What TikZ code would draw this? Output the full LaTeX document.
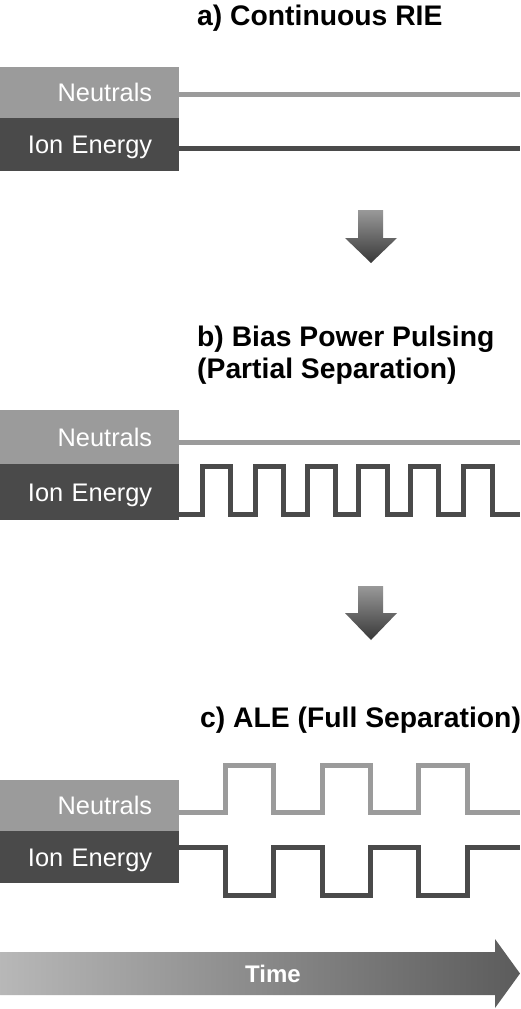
\documentclass[tikz,border=0pt]{standalone}
\usepackage{fontspec}
\setmainfont{Liberation Sans}
\usetikzlibrary{shapes.arrows}
\definecolor{neut}{HTML}{9B9B9B}
\definecolor{ion}{HTML}{4A4A4A}
\begin{document}
\begin{tikzpicture}[x=1pt,y=-1pt,
  title/.style={anchor=base west,inner sep=0pt,font=\bfseries\fontsize{28.3}{32}\selectfont},
  sigbox/.style={anchor=north west,rectangle,minimum width=179pt,inner xsep=27pt,inner ysep=0pt,
     text width=125pt,align=right,text=white,text height=18.3pt,text depth=0pt,
     font=\fontsize{25.4}{28}\selectfont},
  nbox/.style={sigbox,fill=neut},
  ibox/.style={sigbox,fill=ion},
  nline/.style={draw=neut,line width=5pt},
  iline/.style={draw=ion,line width=5pt},
  downarrow/.style={top color=black!40,bottom color=black!78,draw=none}
]
\useasboundingbox (0,0) rectangle (520,1009);
\fill[white] (0,0) rectangle (520,1009);

% ---------- a) ----------
\node[title] (ta) at (197,25) {a) Continuous RIE};
\node[nbox,minimum height=51pt] (na) at (0,67) {Neutrals};
\node[ibox,minimum height=53pt] (ia) at (0,118) {Ion Energy};
\draw[nline] (179,94) -- (520,94);
\draw[iline] (179,148) -- (520,148);

\path[downarrow] (358,210) -- (383,210) -- (383,238) -- (397,238) -- (371,263) -- (345,238) -- (358,238) -- cycle;

% ---------- b) ----------
\node[title] (tb1) at (197,346) {b) Bias Power Pulsing};
\node[title] (tb2) at (197,378) {(Partial Separation)};
\node[nbox,minimum height=54pt] (nb) at (0,410) {Neutrals};
\node[ibox,minimum height=56pt] (ib) at (0,464) {Ion Energy};
\draw[nline] (179,442) -- (520,442);
\draw[iline] (179,514) -- (202,514) -- (202,466) -- (230,466) -- (230,514)
  -- (255,514) -- (255,466) -- (283,466) -- (283,514)
  -- (307,514) -- (307,466) -- (335,466) -- (335,514)
  -- (358,514) -- (358,466) -- (387,466) -- (387,514)
  -- (410,514) -- (410,466) -- (438,466) -- (438,514)
  -- (463,514) -- (463,466) -- (492,466) -- (492,514) -- (520,514);

\path[downarrow] (358,586) -- (383,586) -- (383,613) -- (397,613) -- (371,640) -- (345,613) -- (358,613) -- cycle;

% ---------- c) ----------
\node[title] (tc) at (200,727) {c) ALE (Full Separation)};
\node[nbox,minimum height=51pt] (nc) at (0,780) {Neutrals};
\node[ibox,minimum height=52pt] (ic) at (0,831) {Ion Energy};
\draw[nline] (179,812) -- (225,812) -- (225,765) -- (273,765) -- (273,812)
  -- (322,812) -- (322,765) -- (370,765) -- (370,812)
  -- (418,812) -- (418,765) -- (467,765) -- (467,812) -- (520,812);
\draw[iline] (179,847) -- (225,847) -- (225,895) -- (273,895) -- (273,847)
  -- (322,847) -- (322,895) -- (370,895) -- (370,847)
  -- (418,847) -- (418,895) -- (467,895) -- (467,847) -- (520,847);

% ---------- time arrow ----------
\path[left color=black!28,right color=black!64]
  (0,952) -- (495,952) -- (495,939) -- (520,973.5) -- (495,1008) -- (495,995) -- (0,995) -- cycle;
\node[text=white,font=\bfseries\fontsize{24}{28}\selectfont] (time) at (273,974) {Time};
\end{tikzpicture}
\end{document}
